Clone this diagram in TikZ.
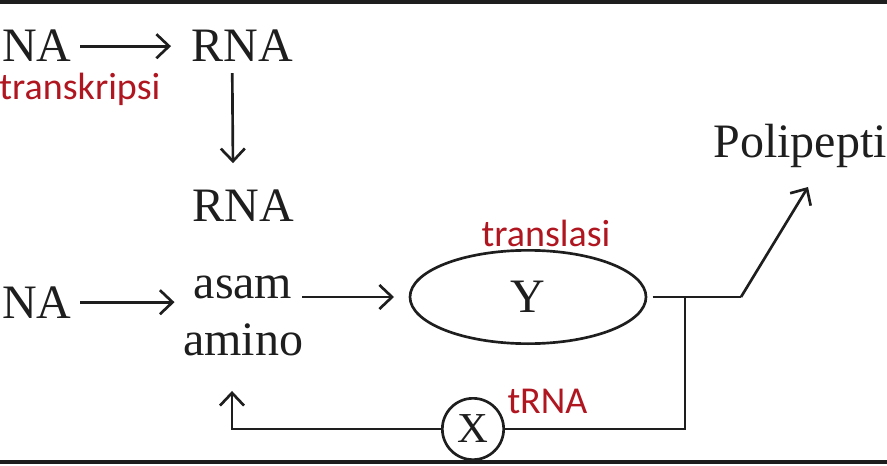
\documentclass[tikz,border=0pt]{standalone}
\usepackage{fontspec}
\setmainfont{Liberation Serif}
\newfontfamily\notefont{Carlito}
\usetikzlibrary{arrows.meta,shapes.geometric}
\definecolor{notered}{RGB}{176,22,32}
\definecolor{ink}{RGB}{30,30,30}

\tikzset{every picture/.style={line width=0.75pt}}
\tikzset{
  term/.style={inner sep=0pt,text=ink,font=\fontsize{36}{40}\selectfont},
  note/.style={inner sep=0pt,text=notered,font=\notefont\fontsize{28.5}{32}\selectfont},
  flow/.style={draw=ink,line width=2pt},
  arr/.style={flow,-{Straight Barb[length=9.5pt,width=18pt]}}
}

\begin{document}
\begin{tikzpicture}[x=0.75pt,y=0.75pt,yscale=-1,xscale=1]
\useasboundingbox (0,0) rectangle (887,466);
\clip (0,0) rectangle (887,466);

%Straight Lines (frame)
\draw [draw=ink,line width=3pt] (-5,2) -- (892,2);
\draw [draw=ink,line width=3pt] (-5,462) -- (892,462);

% Text Node
\draw (72,62) node [anchor=base east][term] (dnaA) {DNA};
% Text Node
\draw (191,62) node [anchor=base west][term] (rnaA) {RNA};
% Text Node
\draw (192,222) node [anchor=base west][term] (rnaB) {RNA};
% Text Node
\draw (72,318) node [anchor=base east][term] (dnaB) {DNA};
% Text Node
\draw (243,298) node [anchor=base][term] (asam) {asam};
% Text Node
\draw (243,355) node [anchor=base][term] (amino) {amino};
% Text Node
\draw (713,158) node [anchor=base west][term] (poli) {Polipeptida};

%Shape: Ellipse
\draw (528,297) node [ellipse,flow,minimum width=177pt,minimum height=70pt][term] (Y) {Y};
%Shape: Circle
\draw (473,429) node [circle,flow,minimum size=46pt][term,font=\fontsize{32}{36}\selectfont] (X) {X};

% Text Node
\draw (-1,100) node [anchor=base west][note] (transk) {transkripsi};
% Text Node
\draw (546,247) node [anchor=base][note] (transl) {translasi};
% Text Node
\draw (507,413) node [anchor=base west][note] (trna) {tRNA};

\coordinate (split) at (685,297);
\coordinate (kink) at (741,297);
\coordinate (tip) at (808,187);
\coordinate (back) at ([shift={(-11,35)}]amino.south);

%Straight Lines
\draw [arr,shorten <=6pt,shorten >=15pt] (dnaA.east) -- (dnaA.east -| rnaA.west);
\draw [arr,shorten <=8pt,shorten >=20pt] ([shift={(-10,0)}]rnaA.south) -- ([shift={(-10,0)}]rnaB.north);
\draw [arr,shorten <=6pt,shorten >=14pt] (dnaB.east) -- (dnaB.east -| asam.west);
\draw [arr,shorten <=7pt,shorten >=11pt] (asam.east |- Y.west) -- (Y.west);
\draw [flow,shorten <=4pt] (Y.east) -- (kink);
\draw [arr] (kink) -- (tip);
\draw [flow] (split) |- (X.east);
\draw [arr] (X.west) -| (back);

\end{tikzpicture}
\end{document}
